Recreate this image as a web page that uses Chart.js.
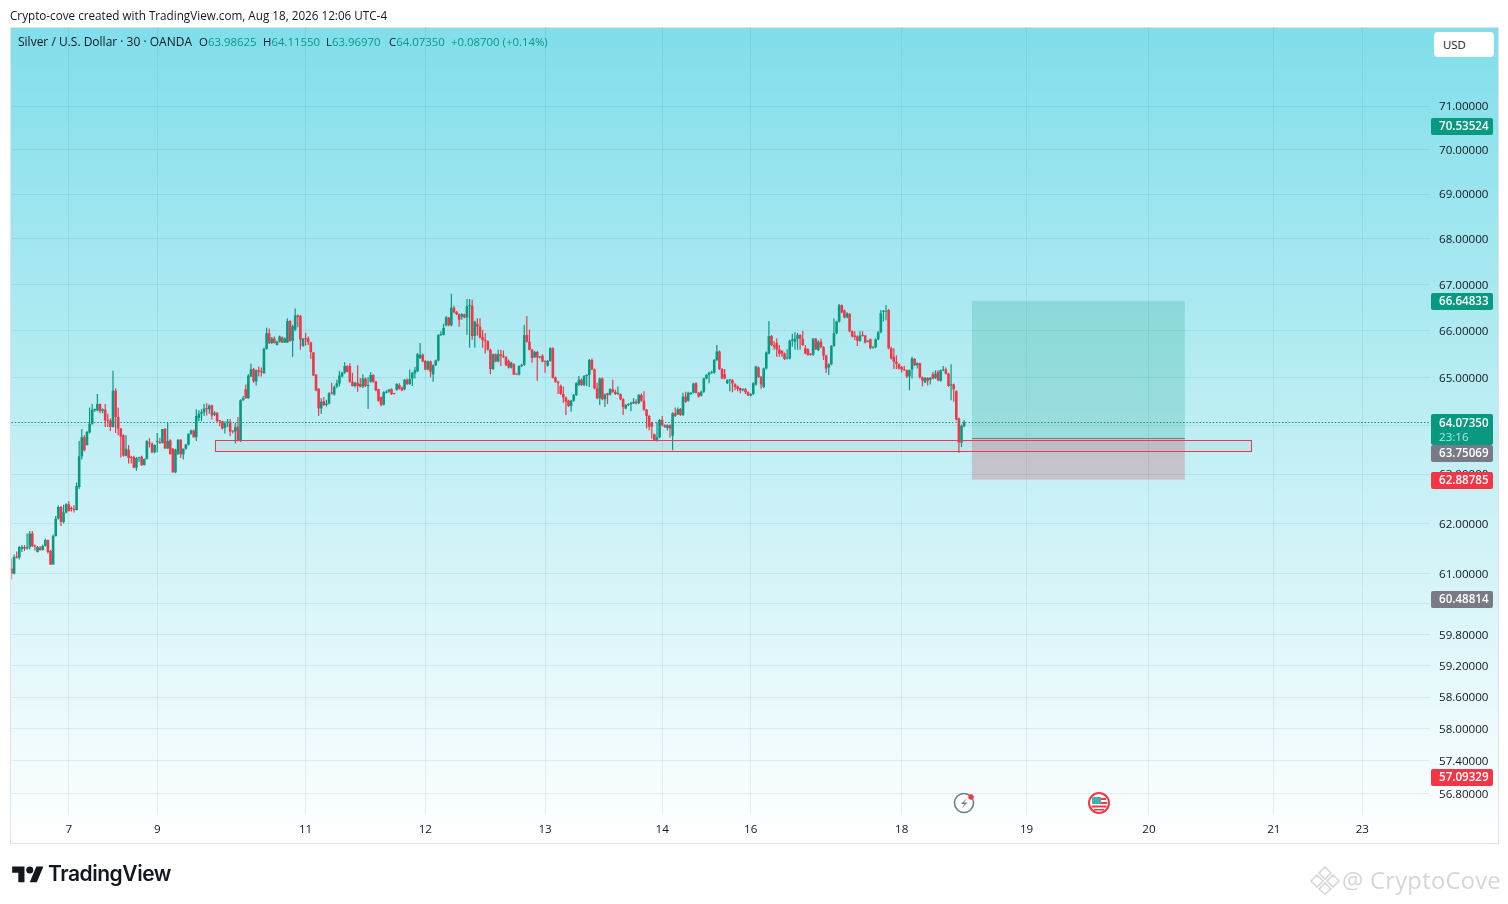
<!DOCTYPE html>
<html><head><meta charset="utf-8">
<style>
html,body{margin:0;padding:0;background:#fff;width:1508px;height:904px;overflow:hidden;font-family:"Open Sans",sans-serif;color:#131722}
#wrap{position:relative;width:1508px;height:904px}
canvas{position:absolute;left:0;top:0}
.t{position:absolute;white-space:nowrap;font-size:12px;line-height:16px}
.g{color:#089981}
</style>
<script src="https://cdn.jsdelivr.net/npm/chart.js@4"></script>
</head><body><div id="wrap">
<canvas id="c" width="1508" height="904"></canvas>
<div class="t" style="left:10px;top:7px;font-size:11.7px">Crypto-cove created with TradingView.com, Aug 18, 2026 12:06 UTC-4</div>
<div class="t" style="left:18px;top:34px;font-size:12px">Silver / U.S. Dollar · 30 · OANDA</div>
<div class="t" style="left:199px;top:34px;font-size:11.4px">O<span class="g">63.98625</span></div>
<div class="t" style="left:263px;top:34px;font-size:11.4px">H<span class="g">64.11550</span></div>
<div class="t" style="left:326px;top:34px;font-size:11.4px">L<span class="g">63.96970</span></div>
<div class="t" style="left:389px;top:34px;font-size:11.4px">C<span class="g">64.07350</span></div>
<div class="t g" style="left:451px;top:34px;font-size:11.4px">+0.08700 (+0.14%)</div>
<div class="t" style="left:1434px;top:32px;width:60px;height:25px;background:#fff;border-radius:4px"><span style="position:absolute;left:9px;top:5px;font-size:11.4px">USD</span></div>
<svg style="position:absolute;left:953px;top:792px" width="24" height="24" viewBox="0 0 24 24"><circle cx="11" cy="11" r="9.5" fill="none" stroke="#787b86" stroke-width="1.6"/><path d="M14 6 L8 12 H11.5 L8.5 16.5 L14.5 10.5 H11 Z" fill="#787b86"/><circle cx="18" cy="5" r="2.7" fill="#f23645"/></svg>
<svg style="position:absolute;left:1087px;top:792px" width="24" height="24" viewBox="0 0 24 24"><circle cx="12" cy="11" r="10" fill="#fff" stroke="#f23645" stroke-width="2"/><rect x="5" y="5" width="9" height="7" fill="#3fb3a8"/><rect x="14" y="6" width="5" height="2" fill="#f23645"/><rect x="14" y="10" width="6" height="2" fill="#f23645"/><rect x="4.5" y="13.5" width="15" height="2" fill="#f23645"/><rect x="7" y="17" width="10" height="1.5" fill="#f23645"/></svg>
<svg style="position:absolute;left:12px;top:863px" width="32" height="22" viewBox="0 0 36 25"><path fill="#131722" d="M14 22H7V11H0V4h14v18zM28 22h-8l7.5-18h8L28 22z"/><circle cx="20" cy="8" r="4" fill="#131722"/></svg>
<div class="t" style="left:48px;top:860px;font:600 21px/28px Inter,sans-serif;letter-spacing:-0.45px">TradingView</div>
<svg style="position:absolute;left:1310px;top:865px" width="30" height="30" viewBox="0 0 30 30" fill="none" stroke="#d6d8dc" stroke-width="1.6"><path d="M15 2 L21 8 L15 14 L9 8 Z M7 10 L13 16 L7 22 L1 16 Z M23 10 L29 16 L23 22 L17 16 Z M15 18 L21 24 L15 29 L9 24 Z"/></svg>
<div class="t" style="left:1342px;top:864px;font:23.7px/32px 'Open Sans',sans-serif;color:#d4d6da;letter-spacing:0.3px">@ CryptoCove</div>
</div>
<script>
const opens=[
61.10,61.00,61.33,61.32,61.49,61.53,61.50,61.53,61.80,61.56,
61.43,61.52,61.47,61.55,61.67,61.45,61.18,61.75,62.10,62.33,
62.03,62.22,62.39,62.30,62.29,62.27,62.74,63.37,63.76,63.60,
63.86,64.04,64.32,64.32,64.45,64.31,64.33,64.11,64.11,63.97,
64.73,64.18,63.94,63.80,63.38,63.50,63.34,63.35,63.13,63.33,
63.36,63.19,63.31,63.65,63.63,63.45,63.66,63.65,63.64,63.93,
63.53,63.70,63.52,63.04,63.41,63.71,63.41,63.52,63.61,63.83,
63.90,63.76,64.16,64.25,64.28,64.36,64.34,64.42,64.23,64.27,
64.10,64.09,63.95,64.06,64.08,63.89,63.88,63.98,63.68,64.53,
64.76,64.57,65.03,65.19,64.93,65.16,65.13,65.10,65.62,65.95,
65.74,65.84,65.70,65.77,65.86,65.75,65.75,66.21,65.79,66.03,
66.33,66.32,65.68,65.83,65.84,65.75,65.54,65.07,64.77,64.36,
64.51,64.43,64.46,64.68,64.65,64.82,64.88,65.03,65.11,65.25,
65.25,64.92,64.83,64.90,64.87,64.82,64.99,64.83,64.92,65.06,
64.92,64.76,64.60,64.44,64.69,64.71,64.76,64.67,64.75,64.85,
64.80,64.76,64.96,64.87,64.99,65.10,65.14,65.42,65.49,65.36,
65.18,65.35,65.08,65.27,65.37,65.91,65.92,66.12,66.29,66.12,
66.50,66.41,66.36,66.31,66.35,66.29,66.53,66.54,65.89,66.15,
66.09,65.87,65.79,65.78,65.60,65.19,65.50,65.35,65.50,65.47,
65.44,65.36,65.22,65.29,65.08,65.07,65.25,65.28,65.91,65.77,
65.60,65.44,65.55,65.43,65.47,65.35,65.26,65.36,65.63,65.01,
64.92,64.83,64.66,64.59,64.52,64.41,64.52,64.64,64.85,64.96,
64.85,65.04,65.06,65.38,65.18,64.78,64.57,64.99,64.55,64.68,
64.65,64.76,64.71,64.66,64.66,64.55,64.36,64.43,64.45,64.47,
64.50,64.47,64.64,64.52,64.33,64.20,64.06,63.82,63.69,63.76,
64.12,64.01,63.95,64.01,63.79,64.26,64.24,64.35,64.22,64.61,
64.52,64.66,64.69,64.89,64.69,64.63,64.71,64.99,65.06,65.11,
65.11,65.38,65.56,65.19,65.08,64.89,64.95,64.95,64.86,64.82,
64.79,64.74,64.76,64.70,64.63,64.66,64.86,65.22,65.02,64.81,
65.20,65.52,65.89,65.70,65.74,65.61,65.57,65.52,65.41,65.41,
65.79,65.77,65.83,65.91,65.83,65.63,65.61,65.51,65.49,65.83,
65.59,65.77,65.65,65.47,65.22,65.29,65.68,65.95,66.20,66.55,
66.44,66.29,66.37,65.99,65.90,65.88,65.79,65.90,65.90,65.77,
65.82,65.64,65.65,65.82,65.97,66.41,66.41,66.45,65.63,65.45,
65.34,65.29,65.23,65.18,65.16,65.03,65.18,65.40,65.27,65.31,
65.01,64.91,65.00,64.96,65.08,65.00,65.13,64.94,65.16,65.18,
65.09,64.84,64.86,64.72,64.15,63.65,63.98625];
const highs=[
61.30,61.38,61.44,61.55,61.57,61.57,61.80,61.85,61.85,61.58,
61.55,61.55,61.58,61.70,61.68,61.47,61.78,62.15,62.36,62.35,
62.38,62.41,62.45,62.34,62.37,62.83,63.68,63.93,63.80,63.89,
64.38,64.45,64.36,64.66,64.46,64.36,64.45,64.25,64.15,65.15,
64.78,64.38,63.95,63.82,63.80,63.60,63.38,63.38,63.35,63.36,
63.38,63.32,63.70,63.74,63.65,63.61,63.85,63.75,63.93,63.95,
64.06,63.72,63.54,63.52,63.72,63.72,63.53,63.62,63.84,63.92,
63.92,64.34,64.32,64.34,64.45,64.47,64.44,64.44,64.30,64.28,
64.12,64.10,64.09,64.14,64.14,63.90,64.06,64.18,64.55,64.62,
64.86,65.08,65.30,65.21,65.18,65.24,65.22,65.64,66.07,66.05,
65.87,65.88,65.79,65.90,65.88,65.86,66.27,66.23,66.13,66.48,
66.35,66.34,65.85,65.96,65.88,65.77,65.55,65.08,64.78,64.57,
64.60,64.54,64.70,64.90,64.84,64.96,65.15,65.13,65.33,65.27,
65.31,65.11,64.92,65.27,65.00,65.08,65.01,65.02,65.12,65.08,
64.94,64.77,64.61,64.72,64.74,64.77,64.78,64.68,64.89,64.89,
64.82,64.98,64.99,65.18,65.12,65.23,65.53,65.74,65.52,65.38,
65.37,65.37,65.29,65.39,65.93,65.99,66.15,66.32,66.30,66.80,
66.54,66.43,66.38,66.38,66.37,66.69,66.69,66.67,66.22,66.27,
66.27,66.02,65.95,65.80,65.62,65.52,65.52,65.60,65.60,65.58,
65.46,65.39,65.34,65.31,65.09,65.27,65.30,66.13,66.32,66.03,
65.62,65.57,65.57,65.46,65.50,65.37,65.38,65.65,65.65,65.03,
64.94,64.86,64.82,64.61,64.54,64.54,64.66,64.91,65.04,64.99,
65.06,65.08,65.40,65.41,65.20,64.90,65.01,65.01,64.67,64.69,
64.78,64.96,64.75,64.82,64.67,64.57,64.45,64.47,64.50,64.58,
64.55,64.66,64.67,64.72,64.35,64.22,64.08,63.84,64.08,64.14,
64.20,64.03,64.03,64.03,64.28,64.38,64.38,64.37,64.69,64.71,
64.71,64.70,64.90,64.91,64.70,64.73,65.01,65.08,65.13,65.15,
65.40,65.70,65.58,65.21,65.19,64.97,64.98,64.97,64.89,64.84,
64.80,64.78,64.79,64.72,64.68,64.91,65.26,65.24,65.04,65.22,
65.56,66.21,65.91,65.78,65.84,65.70,65.59,65.54,65.61,65.81,
65.94,65.97,65.96,65.93,66.00,65.70,65.63,65.53,65.85,65.85,
65.80,65.84,65.67,65.49,65.31,65.70,66.27,66.22,66.58,66.57,
66.46,66.40,66.38,66.01,65.99,65.90,65.99,65.99,65.91,65.80,
65.84,65.67,65.84,65.99,66.45,66.45,66.56,66.47,65.66,65.63,
65.48,65.31,65.25,65.25,65.18,65.18,65.45,65.42,65.33,65.32,
65.03,65.02,65.02,65.02,65.13,65.16,65.16,65.18,65.25,65.22,
65.11,65.29,64.88,64.74,64.17,64.02,64.1155];
const lows=[
60.88,60.98,61.30,61.28,61.43,61.45,61.48,61.48,61.53,61.46,
61.42,61.46,61.46,61.54,61.40,61.17,61.18,61.74,62.08,61.95,
62.00,62.20,62.24,62.24,62.22,62.26,62.70,63.30,63.47,63.59,
63.84,64.02,64.29,64.30,64.26,64.26,63.97,63.97,63.89,63.96,
63.85,63.80,63.34,63.36,63.37,63.22,63.22,63.12,63.07,63.25,
63.17,63.18,63.30,63.55,63.43,63.43,63.45,63.62,63.63,63.52,
63.52,63.41,63.03,63.02,63.40,63.33,63.30,63.50,63.59,63.81,
63.75,63.68,64.09,64.09,64.20,64.21,64.25,64.13,64.20,64.08,
63.99,63.92,63.84,63.97,63.78,63.84,63.63,63.67,63.66,64.52,
64.56,64.56,65.02,64.90,64.84,65.03,65.03,65.09,65.60,65.72,
65.72,65.73,65.69,65.75,65.74,65.74,65.74,65.77,65.45,66.00,
66.08,65.60,65.66,65.69,65.70,65.40,65.04,64.72,64.20,64.25,
64.41,64.40,64.44,64.65,64.63,64.78,64.82,65.01,65.09,65.12,
64.90,64.82,64.80,64.71,64.80,64.79,64.81,64.35,64.90,64.90,
64.72,64.50,64.40,64.42,64.67,64.69,64.64,64.65,64.73,64.75,
64.72,64.74,64.85,64.85,64.83,64.99,65.12,65.40,65.33,65.16,
65.16,65.01,64.92,65.25,65.35,65.89,65.90,66.10,66.10,66.10,
66.38,66.34,66.09,66.24,66.27,65.92,65.64,65.81,65.64,65.90,
65.84,65.64,65.52,65.58,65.08,65.17,65.33,65.33,65.25,65.42,
65.25,65.20,65.20,65.06,65.06,65.05,65.23,65.26,65.75,65.58,
65.32,65.42,64.94,65.41,65.33,65.11,65.24,65.34,64.99,64.90,
64.66,64.64,64.48,64.22,64.39,64.29,64.50,64.62,64.83,64.83,
64.83,64.83,64.81,65.16,64.76,64.55,64.43,64.53,64.39,64.45,
64.63,64.69,64.64,64.64,64.53,64.22,64.34,64.41,64.30,64.45,
64.44,64.45,64.50,64.31,63.94,63.90,63.73,63.68,63.67,63.74,
63.99,63.95,63.90,63.75,63.49,64.18,64.22,64.20,64.20,64.48,
64.50,64.64,64.67,64.67,64.59,64.61,64.69,64.97,64.89,65.09,
65.09,65.36,65.17,64.97,64.97,64.87,64.72,64.70,64.74,64.72,
64.68,64.72,64.66,64.62,64.61,64.64,64.84,65.00,64.77,64.79,
65.18,65.50,65.68,65.60,65.45,65.45,65.45,65.38,65.39,65.39,
65.66,65.60,65.60,65.60,65.68,65.50,65.47,65.47,65.47,65.59,
65.57,65.63,65.38,65.11,65.06,65.27,65.66,65.93,66.18,66.38,
66.27,66.27,65.97,65.86,65.80,65.68,65.77,65.88,65.73,65.75,
65.61,65.62,65.63,65.80,65.95,66.20,66.23,65.61,65.39,65.19,
65.19,65.18,65.11,65.15,65.00,64.74,64.99,65.25,65.20,64.99,
64.82,64.89,64.84,64.86,64.97,64.98,64.93,64.92,65.14,65.07,
64.81,64.53,64.50,64.11,63.44,63.56,63.9697];
const closes=[
61.00,61.33,61.32,61.53,61.53,61.50,61.53,61.80,61.55,61.54,
61.53,61.47,61.55,61.67,61.43,61.18,61.75,62.10,62.33,62.03,
62.22,62.39,62.25,62.29,62.27,62.76,63.37,63.76,63.49,63.87,
64.04,64.33,64.35,64.45,64.30,64.34,64.11,64.10,63.97,64.73,
64.18,63.94,63.77,63.38,63.52,63.33,63.33,63.13,63.33,63.34,
63.19,63.31,63.68,63.63,63.45,63.60,63.68,63.64,63.93,63.53,
63.68,63.41,63.04,63.50,63.71,63.41,63.52,63.61,63.83,63.90,
63.76,64.20,64.25,64.28,64.36,64.34,64.42,64.21,64.27,64.09,
64.09,63.94,64.05,64.08,63.88,63.88,63.97,63.68,64.53,64.57,
64.57,65.05,65.18,64.93,65.16,65.13,65.12,65.62,65.95,65.74,
65.84,65.74,65.77,65.88,65.75,65.84,66.21,65.79,66.10,66.33,
66.30,65.81,65.83,65.82,65.76,65.55,65.05,64.74,64.36,64.50,
64.43,64.46,64.68,64.67,64.81,64.89,65.05,65.11,65.25,65.13,
64.92,64.83,64.90,64.83,64.82,64.99,64.83,64.85,65.06,64.92,
64.74,64.52,64.43,64.70,64.71,64.75,64.66,64.66,64.87,64.77,
64.74,64.96,64.87,64.98,65.11,65.16,65.50,65.49,65.35,65.18,
65.35,65.13,65.27,65.37,65.91,65.93,66.06,66.29,66.12,66.50,
66.40,66.36,66.24,66.36,66.29,66.53,66.54,65.89,66.20,66.09,
65.86,65.80,65.78,65.60,65.19,65.50,65.35,65.50,65.47,65.44,
65.27,65.22,65.32,65.07,65.07,65.25,65.28,65.91,65.77,65.60,
65.42,65.55,65.43,65.44,65.35,65.34,65.36,65.63,65.00,64.92,
64.89,64.66,64.59,64.50,64.41,64.52,64.64,64.89,64.96,64.85,
65.04,65.06,65.38,65.18,64.78,64.57,64.99,64.55,64.65,64.64,
64.76,64.71,64.66,64.68,64.55,64.39,64.43,64.45,64.48,64.50,
64.47,64.64,64.52,64.33,64.20,63.98,63.98,63.69,63.76,64.12,
64.01,63.97,64.01,63.94,64.26,64.20,64.34,64.22,64.61,64.50,
64.69,64.69,64.88,64.69,64.61,64.71,64.99,65.06,65.11,65.13,
65.38,65.56,65.19,64.99,64.99,64.95,64.96,64.88,64.81,64.77,
64.74,64.76,64.70,64.63,64.66,64.89,65.24,65.02,64.86,65.20,
65.54,65.89,65.70,65.66,65.61,65.51,65.51,65.40,65.42,65.79,
65.82,65.83,65.91,65.83,65.70,65.52,65.49,65.49,65.83,65.61,
65.77,65.65,65.47,65.20,65.29,65.68,65.95,66.20,66.55,66.40,
66.29,66.38,65.99,65.88,65.87,65.79,65.90,65.89,65.75,65.79,
65.63,65.65,65.82,65.97,66.38,66.42,66.43,65.63,65.41,65.34,
65.30,65.20,65.18,65.16,65.03,65.16,65.41,65.27,65.31,65.01,
64.94,65.00,64.94,65.00,64.99,65.09,64.95,65.16,65.17,65.09,
64.83,64.86,64.76,64.13,63.65,64.00,64.0735];

const slotCount=546;
const dayLabels=['7','9','11','12','13','14','16','18','19','20','21','23'];
const daySlots=[22,56,113,159,205,250,284,342,390,437,485,519];
const priceTicks=[71,70,69,68,67,66,65,64,63,62,61,60.4,59.8,59.2,58.6,58,57.4,56.8];
const priceMin=56.40, priceMax=72.845;
const lastPrice=64.0735;
const boxSlots=[78.3,476.2], boxPrices=[63.71,63.48];
const tradeSlots=[369,450.8], tradePrices=[66.64833,63.75069,62.88785];
const badgeValues=[70.53524,66.64833,62.88785,60.48814,57.09329];
const badgeColors=['#089981','#089981','#f23645','#787b86','#f23645'];

const UP='#089981',DOWN='#f23645';
const labels=Array(slotCount).fill('');
daySlots.forEach((s,i)=>labels[s]=dayLabels[i]);
const candleColors=opens.map((o,i)=>closes[i]>=o?UP:DOWN);
const FONT='"Open Sans",sans-serif';
const GRID='rgba(40,110,125,0.1)';

const deco={
 id:'deco',
 beforeDraw(ch){
  const c=ch.ctx;c.save();
  const g=c.createLinearGradient(0,27,0,843);
  g.addColorStop(0,'#80deea');g.addColorStop(1,'#ffffff');
  c.fillStyle=g;c.fillRect(10,27,1488,816);
  c.strokeStyle='#e0e3eb';c.lineWidth=1;c.strokeRect(10.5,27.5,1488,816);
  c.restore();
 },
 afterDatasetsDraw(ch){
  const c=ch.ctx,x=ch.scales.x,y=ch.scales.y,a=ch.chartArea;c.save();
  const xa=x.getPixelForValue(tradeSlots[0]),xb=x.getPixelForValue(tradeSlots[1]);
  const y0=y.getPixelForValue(tradePrices[0]),y1=y.getPixelForValue(tradePrices[1]),y2=y.getPixelForValue(tradePrices[2]);
  c.fillStyle='rgba(8,153,129,0.2)';c.fillRect(xa,y0,xb-xa,y1-y0);
  c.fillStyle='rgba(200,60,80,0.25)';c.fillRect(xa,y1,xb-xa,y2-y1);
  c.strokeStyle='#787b86';c.lineWidth=1;c.beginPath();c.moveTo(xa,Math.round(y1)+.5);c.lineTo(xb,Math.round(y1)+.5);c.stroke();
  const bx0=Math.round(x.getPixelForValue(boxSlots[0]))+.5,bx1=Math.round(x.getPixelForValue(boxSlots[1]))+.5;
  const by0=Math.round(y.getPixelForValue(boxPrices[0]))+.5,by1=Math.round(y.getPixelForValue(boxPrices[1]))+.5;
  c.fillStyle='rgba(120,123,134,0.07)';c.fillRect(bx0,by0,bx1-bx0,by1-by0);
  c.strokeStyle=DOWN;c.strokeRect(bx0,by0,bx1-bx0,by1-by0);
  const ly=Math.round(y.getPixelForValue(lastPrice))+.5;
  c.strokeStyle=UP;c.setLineDash([1.5,1.8]);c.beginPath();c.moveTo(a.left,ly);c.lineTo(a.right,ly);c.stroke();
  c.restore();
 },
 afterDraw(ch){
  const c=ch.ctx,y=ch.scales.y;c.save();
  c.textBaseline='middle';c.textAlign='left';
  const badge=(top,h,col)=>{c.fillStyle=col;c.beginPath();c.roundRect(1431,top,62,h,2);c.fill();};
  c.font='600 11.6px '+FONT;
  badgeValues.forEach((v,i)=>{
   const p=y.getPixelForValue(v);
   badge(Math.round(p)-8,17,badgeColors[i]);
   c.fillStyle='#fff';c.fillText(v.toFixed(5),1439,Math.round(p)+1);
  });
  const lp=y.getPixelForValue(lastPrice);
  badge(Math.round(lp)-8,31,UP);
  c.fillStyle='#fff';c.fillText(lastPrice.toFixed(5),1439,Math.round(lp)+1.5);
  c.font='11.6px '+FONT;c.fillStyle='#b2e5dc';c.fillText('23:16',1439,Math.round(lp)+16);
  badge(Math.round(lp)+23,17,'#787b86');
  c.font='600 11.6px '+FONT;c.fillStyle='#fff';c.fillText(tradePrices[1].toFixed(5),1439,Math.round(lp)+32);
  c.restore();
 }
};

new Chart(document.getElementById('c'),{
 type:'bar',
 data:{labels,datasets:[
  {label:'Wick',data:opens.map((_,i)=>[lows[i],highs[i]]),backgroundColor:candleColors,barThickness:1.2,grouped:false,borderWidth:0,inflateAmount:0,order:2},
  {label:'Body',data:opens.map((o,i)=>[o,closes[i]]),backgroundColor:candleColors,barThickness:2.6,minBarLength:1,grouped:false,borderWidth:0,inflateAmount:0,order:1}
 ]},
 plugins:[deco],
 options:{
  responsive:false,animation:false,devicePixelRatio:1,
  layout:{padding:{left:11.5,top:27,right:10,bottom:61}},
  plugins:{legend:{display:false},tooltip:{enabled:false}},
  scales:{
   x:{type:'category',offset:false,
    afterBuildTicks(s){s.ticks=s.ticks.filter(t=>labels[t.value]!=='');},
    afterFit(s){s.height=28;},
    grid:{color:GRID,drawTicks:false,offset:false},border:{display:false},
    ticks:{autoSkip:false,maxRotation:0,padding:8,color:'#131722',font:{size:11.6,family:FONT}}},
   y:{type:'logarithmic',position:'right',min:priceMin,max:priceMax,
    afterBuildTicks(s){s.ticks=priceTicks.map(v=>({value:v}));},
    afterFit(s){s.width=68;},
    grid:{color:GRID,drawTicks:false},border:{display:false},
    ticks:{autoSkip:false,padding:9,labelOffset:1,color:'#131722',font:{size:11.6,family:FONT},callback:v=>Number(v).toFixed(5)}}
  }
 }
});
</script></body></html>
